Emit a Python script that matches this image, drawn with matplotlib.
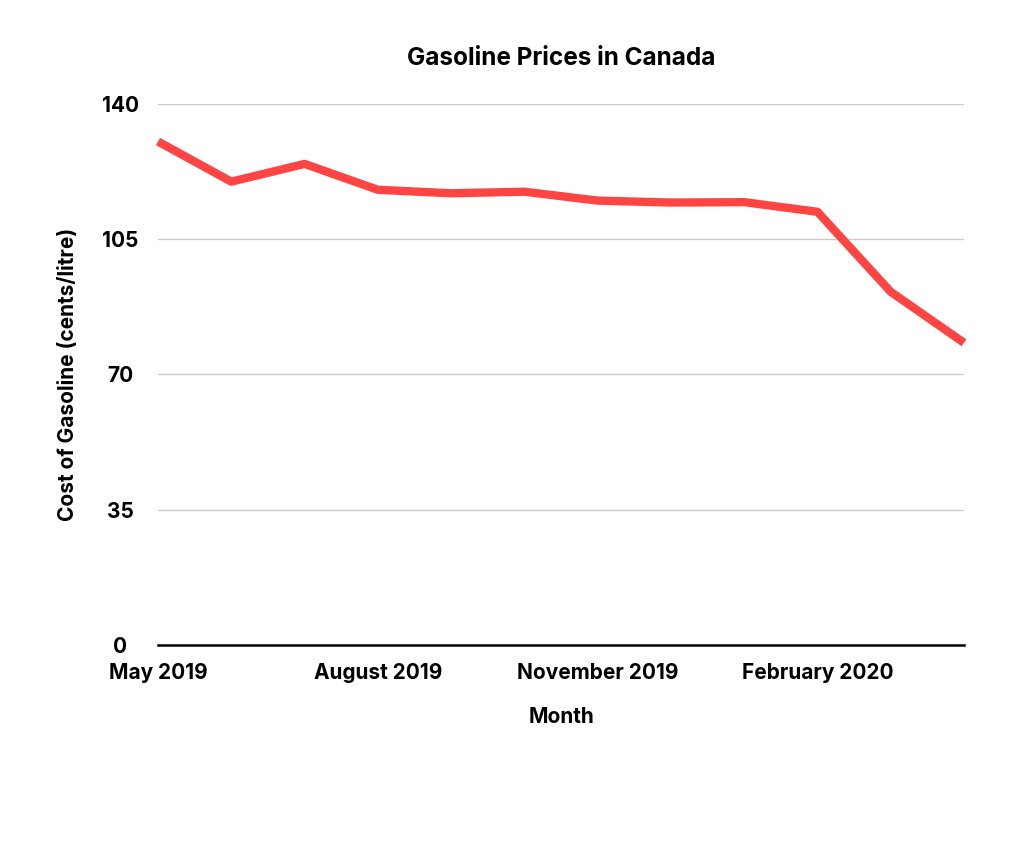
import matplotlib.pyplot as plt

# Monthly gasoline prices, May 2019 - April 2020
months = ['May 2019', 'June 2019', 'July 2019', 'August 2019', 'September 2019',
          'October 2019', 'November 2019', 'December 2019', 'January 2020',
          'February 2020', 'March 2020', 'April 2020']
prices = [130.3, 119.9, 124.5, 117.8, 116.9, 117.3, 115.0, 114.5, 114.6, 112.1, 91.4, 78.2]

y_ticks = [0, 35, 70, 105, 140]
x_tick_idx = [0, 3, 6, 9]

plt.rcParams['font.family'] = ['Inter', 'DejaVu Sans']
plt.rcParams['font.weight'] = 'bold'

fig = plt.figure(figsize=(10.24, 8.68), dpi=100)
ax = fig.add_axes([158 / 1024, 1 - 645 / 868, 806 / 1024, 541 / 868])

x = list(range(len(months)))
ax.plot(x, prices, color='#ff4444', linewidth=6.0,
        solid_capstyle='butt', solid_joinstyle='round', clip_on=False, zorder=3)

ax.set_xlim(0, len(months) - 1)
ax.set_ylim(0, 140)

# Gridlines (grey) and black baseline
for t in y_ticks[1:]:
    ax.axhline(t, color='#cccccc', linewidth=1.0, zorder=1)
ax.axhline(0, color='black', linewidth=1.8, zorder=2, clip_on=False)

ax.set_yticks(y_ticks)
ax.set_yticklabels([str(t) for t in y_ticks])
ax.tick_params(axis='y', length=0, pad=27, labelsize=15)
for lab in ax.get_yticklabels():
    lab.set_horizontalalignment('center')

ax.set_xticks(x_tick_idx)
ax.set_xticklabels([months[i] for i in x_tick_idx])
ax.tick_params(axis='x', length=0, pad=13, labelsize=15)

for s in ax.spines.values():
    s.set_visible(False)

ax.set_title('Gasoline Prices in Canada', fontsize=17.5, fontweight='bold', pad=28)
ax.set_xlabel('Month', fontsize=15, fontweight='bold', labelpad=17)
ax.set_ylabel('Cost of Gasoline (cents/litre)', fontsize=15, fontweight='bold', labelpad=17)

fig.savefig('out.png', dpi=100)
